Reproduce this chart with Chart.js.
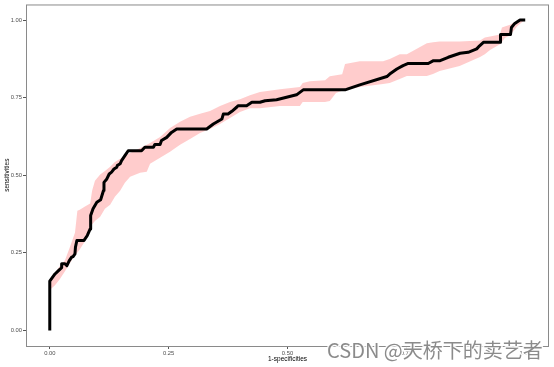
<!DOCTYPE html>
<html>
<head>
<meta charset="utf-8">
<script src="https://cdn.jsdelivr.net/npm/chart.js@4.4.1/dist/chart.umd.min.js"></script>
<style>
  html, body { margin: 0; padding: 0; background: #fff; }
  #wrap { width: 554px; height: 367px; }
</style>
</head>
<body>
<div id="wrap"><canvas id="roc" width="554" height="367"></canvas></div>
<script>
/* ── Axis ticks ───────────────────────────────── */
const X_TICKS       = [0, 0.25, 0.5, 0.75, 1];
const X_TICK_LABELS = ['0.00', '0.25', '0.50', '0.75', '1.00'];
const Y_TICKS       = [0, 0.25, 0.5, 0.75, 1];
const Y_TICK_LABELS = ['0.00', '0.25', '0.50', '0.75', '1.00'];

/* ── ROC curve (1-specificity, sensitivity) ──── */
const ROC_FPR = [0, 0, 0.011, 0.020, 0.025, 0.025, 0.032, 0.036, 0.041, 0.046, 0.049, 0.053, 0.054, 0.057,
  0.072, 0.079, 0.085, 0.086, 0.091, 0.099, 0.107, 0.113, 0.114, 0.120, 0.125, 0.130, 0.135, 0.141, 0.142,
  0.148, 0.151, 0.158, 0.165, 0.193, 0.200, 0.218, 0.221, 0.232, 0.235, 0.246, 0.256, 0.267, 0.330, 0.344,
  0.362, 0.365, 0.375, 0.383, 0.393, 0.396, 0.414, 0.425, 0.442, 0.453, 0.477, 0.519, 0.533, 0.621, 0.652,
  0.709, 0.715, 0.730, 0.743, 0.754, 0.796, 0.807, 0.821, 0.838, 0.863, 0.880, 0.898, 0.904, 0.912, 0.947,
  0.948, 0.969, 0.971, 0.978, 0.989, 1.0];
const ROC_TPR = [0, 0.159, 0.182, 0.195, 0.202, 0.215, 0.215, 0.209, 0.225, 0.236, 0.238, 0.247, 0.268, 0.290,
  0.290, 0.306, 0.327, 0.370, 0.392, 0.413, 0.421, 0.451, 0.477, 0.488, 0.504, 0.510, 0.520, 0.526, 0.531,
  0.537, 0.547, 0.563, 0.579, 0.579, 0.590, 0.590, 0.599, 0.599, 0.612, 0.622, 0.638, 0.649, 0.649, 0.665,
  0.681, 0.697, 0.697, 0.706, 0.719, 0.724, 0.724, 0.735, 0.735, 0.740, 0.743, 0.759, 0.775, 0.775, 0.791,
  0.818, 0.826, 0.842, 0.853, 0.860, 0.860, 0.869, 0.869, 0.880, 0.893, 0.896, 0.907, 0.917, 0.928, 0.928,
  0.953, 0.953, 0.976, 0.989, 1.0, 1.0];

/* ── Confidence band of sensitivity ──────────── */
const BAND_FPR = [0, 0.011, 0.021, 0.032, 0.042, 0.053, 0.058, 0.063, 0.074, 0.085, 0.089, 0.095, 0.106,
  0.116, 0.127, 0.137, 0.148, 0.158, 0.169, 0.190, 0.204, 0.211, 0.232, 0.253, 0.274, 0.295, 0.316, 0.337,
  0.358, 0.379, 0.400, 0.421, 0.442, 0.484, 0.526, 0.532, 0.547, 0.579, 0.589, 0.602, 0.615, 0.621, 0.652,
  0.701, 0.715, 0.736, 0.751, 0.793, 0.806, 0.820, 0.862, 0.905, 0.915, 0.926, 0.947, 0.951, 0.957, 0.968,
  0.983, 0.993, 1.0];
const BAND_HI = [0.162, 0.187, 0.207, 0.226, 0.267, 0.315, 0.386, 0.389, 0.399, 0.409, 0.450, 0.482, 0.502,
  0.514, 0.527, 0.543, 0.553, 0.563, 0.572, 0.588, 0.598, 0.604, 0.623, 0.652, 0.672, 0.688, 0.698, 0.707,
  0.723, 0.736, 0.745, 0.758, 0.768, 0.777, 0.784, 0.797, 0.803, 0.806, 0.819, 0.822, 0.825, 0.858, 0.867,
  0.867, 0.874, 0.890, 0.890, 0.925, 0.928, 0.931, 0.931, 0.934, 0.944, 0.947, 0.953, 0.976, 0.979, 0.985,
  0.998, 1.0, 1.0];
const BAND_LO = [0.130, 0.146, 0.165, 0.191, 0.216, 0.242, 0.251, 0.261, 0.287, 0.328, 0.341, 0.353, 0.366,
  0.392, 0.405, 0.431, 0.450, 0.476, 0.495, 0.508, 0.511, 0.537, 0.556, 0.576, 0.598, 0.617, 0.636, 0.649,
  0.665, 0.684, 0.704, 0.716, 0.716, 0.723, 0.723, 0.736, 0.736, 0.736, 0.739, 0.765, 0.772, 0.774, 0.784,
  0.794, 0.797, 0.810, 0.820, 0.820, 0.826, 0.836, 0.852, 0.881, 0.890, 0.903, 0.922, 0.929, 0.942, 0.950,
  0.980, 0.993, 1.0];

/* ── Colours ──────────────────────────────────── */
const C_LINE     = '#000000';
const C_BAND     = 'rgba(255,0,0,0.2)';
const C_BORDER   = '#8a8a8a';
const C_TICK     = '#555555';
const C_TICK_TXT = '#4d4d4d';

Chart.defaults.font.family = "'Liberation Sans', Arial, sans-serif";

const pts = (xs, ys) => xs.map((x, i) => ({ x, y: ys[i] }));

/* panel border like ggplot theme */
const panelBorder = {
  id: 'panelBorder',
  afterDraw(chart) {
    const { ctx, chartArea: a } = chart;
    ctx.save();
    ctx.strokeStyle = C_BORDER;
    ctx.lineWidth = 1;
    ctx.strokeRect(a.left + 0.5, a.top + 0.5, a.right - a.left - 1, a.bottom - a.top);
    ctx.restore();
  },
};

/* site watermark stamped on the picture */
const watermark = {
  id: 'watermark',
  afterDraw(chart) {
    const { ctx } = chart;
    ctx.save();
    ctx.font = "20px 'Noto Sans CJK SC', sans-serif";
    ctx.textAlign = 'left';
    ctx.textBaseline = 'middle';
    ctx.lineJoin = 'round';
    ctx.strokeStyle = 'rgba(255,255,255,0.9)';
    ctx.lineWidth = 3;
    ctx.strokeText('CSDN @天桥下的卖艺者', 327, 350);
    ctx.fillStyle = 'rgba(110,110,110,0.8)';
    ctx.fillText('CSDN @天桥下的卖艺者', 327, 350);
    ctx.restore();
  },
};

new Chart(document.getElementById('roc').getContext('2d'), {
  type: 'line',
  data: {
    datasets: [
      {
        label: 'ROC',
        data: pts(ROC_FPR, ROC_TPR),
        borderColor: C_LINE,
        borderWidth: 3,
        borderJoinStyle: 'round',
        pointRadius: 0,
        tension: 0,
        fill: false,
        order: 0,
      },
      {
        label: 'lower',
        data: pts(BAND_FPR, BAND_LO),
        borderWidth: 0,
        pointRadius: 0,
        tension: 0,
        fill: false,
        order: 1,
      },
      {
        label: 'upper',
        data: pts(BAND_FPR, BAND_HI),
        borderWidth: 0,
        pointRadius: 0,
        tension: 0,
        backgroundColor: C_BAND,
        fill: '-1',
        order: 2,
      },
    ],
  },
  options: {
    responsive: false,
    animation: false,
    layout: { padding: { top: 3, right: 5, left: 0, bottom: 0 } },
    plugins: { legend: { display: false }, tooltip: { enabled: false } },
    scales: {
      x: {
        type: 'linear',
        min: -0.05, max: 1.05,
        afterBuildTicks: s => { s.ticks = X_TICKS.map(v => ({ value: v })); },
        afterFit: s => { s.height = 21; },
        ticks: { color: C_TICK_TXT, font: { size: 5.8 }, padding: 1, maxRotation: 0,
                 callback: (v, i) => X_TICK_LABELS[i] },
        grid: { drawOnChartArea: false, tickLength: 3, color: C_TICK },
        border: { display: false },
        title: { display: true, text: '1-specificities', color: '#000',
                 font: { size: 6.5 }, padding: { top: 0, bottom: 4 } },
      },
      y: {
        type: 'linear',
        min: -0.05, max: 1.05,
        afterBuildTicks: s => { s.ticks = Y_TICKS.map(v => ({ value: v })); },
        afterFit: s => { s.width = 26; },
        ticks: { color: C_TICK_TXT, font: { size: 5.8 }, padding: 1,
                 callback: (v, i) => Y_TICK_LABELS[i] },
        grid: { drawOnChartArea: false, tickLength: 3, color: C_TICK },
        border: { display: false },
        title: { display: true, text: 'sensitivities', color: '#000',
                 font: { size: 6.5 }, padding: { top: 3, bottom: 0 } },
      },
    },
  },
  plugins: [panelBorder, watermark],
});
</script>
</body>
</html>
